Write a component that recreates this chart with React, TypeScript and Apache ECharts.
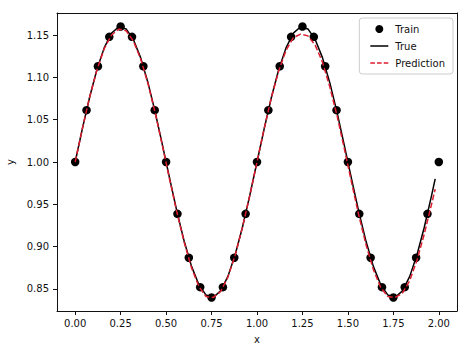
import React, { useEffect, useRef } from "react";
import * as echarts from "echarts";

// Training points (x every 1/16)
const trainX = [0, 0.0625, 0.125, 0.1875, 0.25, 0.3125, 0.375, 0.4375, 0.5, 0.5625, 0.625, 0.6875, 0.75, 0.8125, 0.875, 0.9375,
  1.0, 1.0625, 1.125, 1.1875, 1.25, 1.3125, 1.375, 1.4375, 1.5, 1.5625, 1.625, 1.6875, 1.75, 1.8125, 1.875, 1.9375, 2.0];
const trainY = [1.0, 1.0612, 1.1131, 1.1478, 1.16, 1.1478, 1.1131, 1.0612, 1.0, 0.9388, 0.8869, 0.8522, 0.84, 0.8522, 0.8869, 0.9388,
  1.0, 1.0612, 1.1131, 1.1478, 1.16, 1.1478, 1.1131, 1.0612, 1.0, 0.9388, 0.8869, 0.8522, 0.84, 0.8522, 0.8869, 0.9388, 1.0];

// Dense curve x positions
const curveX = [0, 0.04, 0.08, 0.12, 0.16, 0.2, 0.24, 0.28, 0.32, 0.36, 0.4, 0.44, 0.48, 0.52, 0.56, 0.6, 0.64, 0.68, 0.72, 0.76, 0.8, 0.84, 0.88, 0.92, 0.96,
  1.0, 1.04, 1.08, 1.12, 1.16, 1.2, 1.24, 1.28, 1.32, 1.36, 1.4, 1.44, 1.48, 1.52, 1.56, 1.6, 1.64, 1.68, 1.72, 1.76, 1.8, 1.84, 1.88, 1.92, 1.96, 1.98];
const trueY = [1.0, 1.0398, 1.0771, 1.1095, 1.1351, 1.1522, 1.1597, 1.1572, 1.1448, 1.1233, 1.094, 1.0589, 1.02, 0.98, 0.9411, 0.906, 0.8767, 0.8552, 0.8428, 0.8403, 0.8478, 0.8649, 0.8905, 0.9229, 0.9602,
  1.0, 1.0398, 1.0771, 1.1095, 1.1351, 1.1522, 1.1597, 1.1572, 1.1448, 1.1233, 1.094, 1.0589, 1.02, 0.98, 0.9411, 0.906, 0.8767, 0.8552, 0.8428, 0.8403, 0.8478, 0.8649, 0.8905, 0.9229, 0.9602, 0.98];
const predY = [1.0, 1.04, 1.077, 1.109, 1.134, 1.15, 1.157, 1.155, 1.143, 1.122, 1.093, 1.058, 1.019, 0.979, 0.94, 0.905, 0.875, 0.853, 0.841, 0.84, 0.847, 0.864, 0.89, 0.923, 0.96,
  1.0, 1.04, 1.077, 1.108, 1.132, 1.147, 1.151, 1.149, 1.138, 1.118, 1.089, 1.055, 1.016, 0.976, 0.937, 0.902, 0.873, 0.852, 0.841, 0.84, 0.845, 0.86, 0.884, 0.915, 0.95, 0.968];

const xTicks = [0, 0.25, 0.5, 0.75, 1.0, 1.25, 1.5, 1.75, 2.0];
const yTicks = [0.85, 0.9, 0.95, 1.0, 1.05, 1.1, 1.15];

const FONT = "DejaVu Sans";
const INK = "#111";
const RED = "#dd1c2e";

// legend glyphs: tiny corner specks keep the bounding box at 18x8 so the strokes stay thin
const SOLID_ICON = "path://M0,0h0.01v0.01h-0.01z M0,3.25h18v1.5h-18z M17.99,8h0.01v-0.01h-0.01z";
const DASH_ICON = "path://M0,0h0.01v0.01h-0.01z M0,3.25h4.6v1.5h-4.6z M6.7,3.25h4.6v1.5h-4.6z M13.4,3.25h4.6v1.5h-4.6z M17.99,8h0.01v-0.01h-0.01z";

export default function App() {
  const ref = useRef<HTMLDivElement>(null);
  useEffect(() => {
    if (!ref.current) return;
    const chart = echarts.init(ref.current, null, { renderer: "svg" });
    const spine = { show: true, lineStyle: { color: INK, width: 1 } };
    const hidden = { show: false };
    chart.setOption({
      animation: false,
      backgroundColor: "#fff",
      grid: { left: 57, right: 17, top: 13, bottom: 51, containLabel: false, outerBoundsMode: "none" },
      legend: {
        orient: "vertical",
        right: 21,
        top: 18,
        padding: [5, 8, 5, 11],
        itemGap: 5,
        itemWidth: 18,
        itemHeight: 8,
        borderColor: "#ccc",
        borderWidth: 1,
        borderRadius: 3,
        backgroundColor: "rgba(255,255,255,0.8)",
        textStyle: { fontFamily: FONT, fontSize: 10, color: INK, lineHeight: 12, padding: [0, 0, 0, 2] },
        data: [
          { name: "Train", icon: "circle", itemStyle: { opacity: 1, color: "#000" } },
          { name: "True", icon: SOLID_ICON, itemStyle: { color: "#000", opacity: 1 } },
          { name: "Prediction", icon: DASH_ICON, itemStyle: { color: RED, opacity: 1 } },
        ],
      },
      xAxis: [
        {
          type: "value",
          min: -0.1,
          max: 2.1,
          name: "x",
          nameLocation: "middle",
          nameGap: 23,
          nameTextStyle: { fontFamily: FONT, fontSize: 10, color: INK },
          axisLine: { ...spine, onZero: false },
          axisTick: { show: true, length: 4, lineStyle: { color: INK, width: 1 }, customValues: xTicks },
          axisLabel: {
            fontFamily: FONT, fontSize: 10, color: INK, margin: 7,
            customValues: xTicks,
            formatter: (v: number) => v.toFixed(2),
          },
          splitLine: hidden,
        },
        {
          type: "value",
          position: "top",
          min: -0.1,
          max: 2.1,
          axisLine: { ...spine, onZero: false },
          axisTick: hidden,
          axisLabel: hidden,
          splitLine: hidden,
        },
      ],
      yAxis: [
        {
          type: "value",
          min: 0.824,
          max: 1.176,
          name: "y",
          nameLocation: "middle",
          nameGap: 39,
          nameTextStyle: { fontFamily: FONT, fontSize: 10, color: INK },
          axisLine: { ...spine, onZero: false },
          axisTick: { show: true, length: 4, lineStyle: { color: INK, width: 1 }, customValues: yTicks },
          axisLabel: {
            fontFamily: FONT, fontSize: 10, color: INK, margin: 8,
            customValues: yTicks,
            formatter: (v: number) => v.toFixed(2),
          },
          splitLine: hidden,
        },
        {
          type: "value",
          position: "right",
          min: 0.824,
          max: 1.176,
          axisLine: { ...spine, onZero: false },
          axisTick: hidden,
          axisLabel: hidden,
          splitLine: hidden,
        },
      ],
      series: [
        {
          name: "Train",
          type: "scatter",
          symbol: "circle",
          symbolSize: 8.5,
          itemStyle: { color: "#000", opacity: 1 },
          data: trainX.map((x, i) => [x, trainY[i]]),
          z: 2,
        },
        {
          name: "True",
          type: "line",
          symbol: "none",
          lineStyle: { color: "#000", width: 1.5 },
          itemStyle: { color: "#000" },
          data: curveX.map((x, i) => [x, trueY[i]]),
          z: 3,
        },
        {
          name: "Prediction",
          type: "line",
          symbol: "none",
          lineStyle: { color: RED, width: 1.5, type: [5.7, 2.5] },
          itemStyle: { color: RED },
          data: curveX.map((x, i) => [x, predY[i]]),
          z: 4,
        },
      ],
    });
    return () => chart.dispose();
  }, []);
  return <div ref={ref} style={{ width: 474, height: 362, position: "absolute", left: 0, top: 0 }} />;
}
